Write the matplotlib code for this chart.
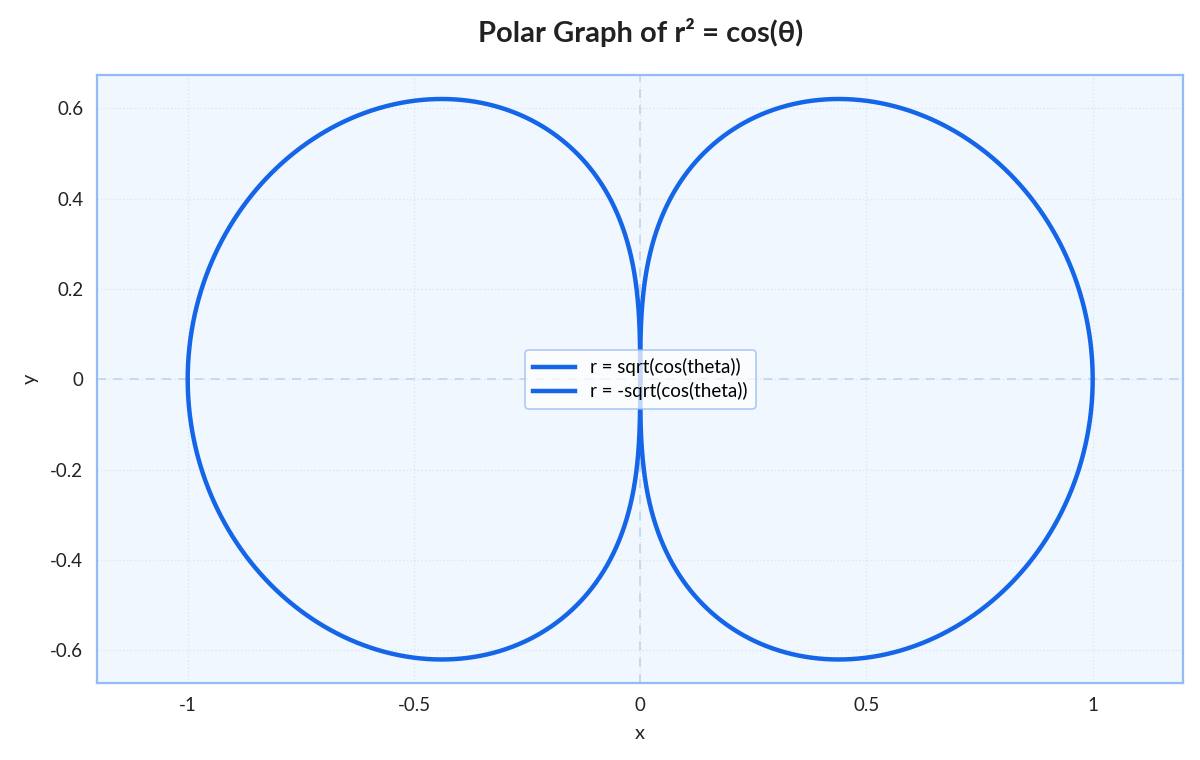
import numpy as np
import matplotlib
matplotlib.use('Agg')
import matplotlib.pyplot as plt

plt.rcParams['font.family'] = ['Lato', 'DejaVu Sans']

# curve r^2 = cos(theta), both branches
theta = np.linspace(-np.pi / 2, np.pi / 2, 2001)
r_pos = np.sqrt(np.clip(np.cos(theta), 0, None))
r_neg = -r_pos
labels = ['r = sqrt(cos(theta))', 'r = -sqrt(cos(theta))']
xticks = [-1, -0.5, 0, 0.5, 1]
xticklabels = ['-1', '-0.5', '0', '0.5', '1']
yticks = [-0.6, -0.4, -0.2, 0, 0.2, 0.4, 0.6]
yticklabels = ['-0.6', '-0.4', '-0.2', '0', '0.2', '0.4', '0.6']

line_color = '#1565e8'
spine_color = '#93bbf5'

fig = plt.figure(figsize=(12, 7.6), dpi=100)
ax = fig.add_axes([0.081, 0.101, 0.905, 0.80])
ax.set_facecolor('#f1f7fe')

ax.plot(r_pos * np.cos(theta), r_pos * np.sin(theta), color=line_color, lw=3.2, label=labels[0], zorder=3)
ax.plot(r_neg * np.cos(theta), r_neg * np.sin(theta), color=line_color, lw=3.2, label=labels[1], zorder=3)

ax.axhline(0, color='#c3d7f3', lw=1.3, ls=(0, (5, 4)), zorder=2)
ax.axvline(0, color='#c3d7f3', lw=1.3, ls=(0, (5, 4)), zorder=2)

ax.grid(True, color='#dce6f3', ls=':', lw=1.0, zorder=1)
ax.set_axisbelow(True)

ax.set_xlim(-1.2, 1.2)
ax.set_ylim(-0.673, 0.673)
ax.set_xticks(xticks)
ax.set_xticklabels(xticklabels)
ax.set_yticks(yticks)
ax.set_yticklabels(yticklabels)
ax.tick_params(length=0, labelsize=13.5, colors='#222222', pad=10)

for s in ax.spines.values():
    s.set_color(spine_color)
    s.set_linewidth(1.6)

ax.set_xlabel('x', fontsize=14.5, color='#222222', labelpad=8)
ax.set_ylabel('y', fontsize=14.5, color='#222222', labelpad=8)
ax.set_title('Polar Graph of r² = cos(θ)', fontsize=21, fontweight='bold', color='#222222', pad=24)

leg = ax.legend(loc='center', fontsize=13.5, frameon=True, framealpha=0.75,
                edgecolor=spine_color, facecolor='white', handlelength=2.2,
                borderpad=0.45, labelspacing=0.3)
leg.get_frame().set_linewidth(1.2)

fig.savefig('out.png', dpi=100)
